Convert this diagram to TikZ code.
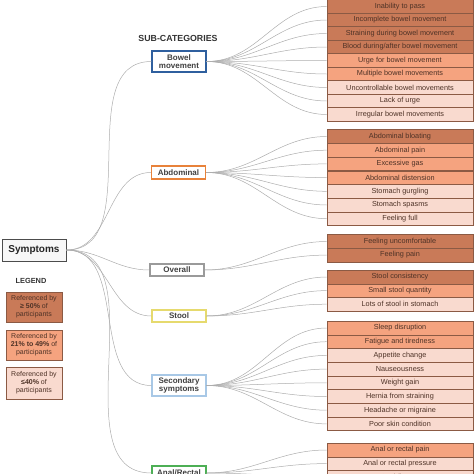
\documentclass[tikz,border=0pt]{standalone}
\usepackage{fontspec}
\setmainfont{Liberation Sans}
\usepackage{xcolor}
\usepackage{tikz}
\usetikzlibrary{shapes,arrows.meta,positioning,fit,calc}
\definecolor{hi}{HTML}{C97A58}
\definecolor{mid}{HTML}{F5A37F}
\definecolor{lo}{HTML}{F9DACF}
\definecolor{rowline}{HTML}{8B5A44}
\definecolor{rowtext}{HTML}{4E3226}
\definecolor{catblue}{HTML}{2F5F9E}
\definecolor{catorange}{HTML}{E8823A}
\definecolor{catgray}{HTML}{9A9A9A}
\definecolor{catyellow}{HTML}{E6DA6E}
\definecolor{catsky}{HTML}{A8C8E6}
\definecolor{catgreen}{HTML}{4DAF55}

\begin{document}
\begin{tikzpicture}[x=1pt, y=-1pt,
  root/.style={rectangle, draw=black!70, fill=black!3, line width=0.9pt, minimum width=64pt, minimum height=22pt, font=\fontsize{10}{11}\selectfont\bfseries, text=black!85},
  cat/.style={rectangle, fill=white, line width=1.4pt, minimum width=54pt, inner sep=1pt, font=\fontsize{8}{8.6}\selectfont\bfseries, text=black!75, align=center},
  row/.style={rectangle, draw=rowline, line width=0.6pt, minimum width=146pt, minimum height=13.6pt, inner sep=0pt, font=\fontsize{7.3}{8}\selectfont, text=rowtext},
  key/.style={rectangle, draw=rowline, line width=0.6pt, minimum width=56pt, minimum height=30pt, inner sep=1pt, font=\fontsize{7}{8}\selectfont, text=rowtext, align=center},
  head/.style={font=\fontsize{8.8}{9}\selectfont\bfseries, text=black!80},
  link/.style={black!32, line width=0.5pt}
]
\clip (0,0) rectangle (474,474);

% main node and sub-categories
\node[root] (symptoms) at (34,250) {Symptoms};
\node[head] (subhead) at (178,38.5) {SUB-CATEGORIES};
\node[cat, draw=catblue, minimum height=21pt] (bowel) at (179,61.5) {Bowel\\movement};
\node[cat, draw=catorange, minimum height=13pt] (abdominal) at (178.5,172.5) {Abdominal};
\node[cat, draw=catgray, minimum height=12pt] (overall) at (177,270) {Overall};
\node[cat, draw=catyellow, minimum height=12pt] (stool) at (179,316) {Stool};
\node[cat, draw=catsky, minimum height=21pt] (secondary) at (179,385.5) {Secondary\\symptoms};
\node[cat, draw=catgreen, minimum height=14pt] (anal) at (179,473) {Anal/Rectal};

% legend
\node[head, font=\fontsize{7.4}{8}\selectfont\bfseries] (legend) at (31,281) {LEGEND};
\node[key, fill=hi] (keyhi) at (34,307) {Referenced by\\\textbf{≥ 50\%} of\\participants};
\node[key, fill=mid] (keymid) at (34,345) {Referenced by\\\textbf{21\% to 49\%} of\\participants};
\node[key, fill=lo, minimum height=32pt] (keylo) at (34,383) {Referenced by\\\textbf{≤40\%} of\\participants};

% bowel movement rows
\node[row, fill=hi] (b1) at (400,6.5) {Inability to pass};
\node[row, fill=hi] (b2) at (400,20) {Incomplete bowel movement};
\node[row, fill=hi] (b3) at (400,33.5) {Straining during bowel movement};
\node[row, fill=hi] (b4) at (400,47) {Blood during/after bowel movement};
\node[row, fill=mid] (b5) at (400,60.5) {Urge for bowel movement};
\node[row, fill=mid] (b6) at (400,74) {Multiple bowel movements};
\node[row, fill=lo] (b7) at (400,87.5) {Uncontrollable bowel movements};
\node[row, fill=lo] (b8) at (400,101) {Lack of urge};
\node[row, fill=lo] (b9) at (400,114.5) {Irregular bowel movements};

% abdominal rows
\node[row, fill=hi] (a1) at (400,136.5) {Abdominal bloating};
\node[row, fill=mid] (a2) at (400,150.2) {Abdominal pain};
\node[row, fill=mid] (a3) at (400,163.9) {Excessive gas};
\node[row, fill=mid] (a4) at (400,177.6) {Abdominal distension};
\node[row, fill=lo] (a5) at (400,191.3) {Stomach gurgling};
\node[row, fill=lo] (a6) at (400,205) {Stomach spasms};
\node[row, fill=lo] (a7) at (400,218.7) {Feeling full};

% overall rows
\node[row, fill=hi] (o1) at (400,241.5) {Feeling uncomfortable};
\node[row, fill=hi] (o2) at (400,255.1) {Feeling pain};

% stool rows
\node[row, fill=hi] (s1) at (400,277) {Stool consistency};
\node[row, fill=mid] (s2) at (400,290.6) {Small stool quantity};
\node[row, fill=lo] (s3) at (400,304.2) {Lots of stool in stomach};

% secondary rows
\node[row, fill=mid] (c1) at (400,328) {Sleep disruption};
\node[row, fill=mid] (c2) at (400,341.7) {Fatigue and tiredness};
\node[row, fill=lo] (c3) at (400,355.4) {Appetite change};
\node[row, fill=lo] (c4) at (400,369.1) {Nauseousness};
\node[row, fill=lo] (c5) at (400,382.8) {Weight gain};
\node[row, fill=lo] (c6) at (400,396.5) {Hernia from straining};
\node[row, fill=lo] (c7) at (400,410.2) {Headache or migraine};
\node[row, fill=lo] (c8) at (400,423.9) {Poor skin condition};

% anal/rectal rows
\node[row, fill=mid] (r1) at (400,450) {Anal or rectal pain};
\node[row, fill=lo] (r2) at (400,463.6) {Anal or rectal pressure};
\node[row, fill=lo] (r3) at (400,477.2) {Anal fissure};

% links from symptoms
\foreach \c in {bowel,abdominal,overall,stool,secondary,anal}
  \draw[link] (symptoms.east) to[out=0, in=180] (\c.west);

% links from sub-categories
\foreach \r in {b1,b2,b3,b4,b5,b6,b7,b8,b9}
  \draw[link] (bowel.east) to[out=0, in=180] (\r.west);
\foreach \r in {a1,a2,a3,a4,a5,a6,a7}
  \draw[link] (abdominal.east) to[out=0, in=180] (\r.west);
\foreach \r in {o1,o2}
  \draw[link] (overall.east) to[out=0, in=180] (\r.west);
\foreach \r in {s1,s2,s3}
  \draw[link] (stool.east) to[out=0, in=180] (\r.west);
\foreach \r in {c1,c2,c3,c4,c5,c6,c7,c8}
  \draw[link] (secondary.east) to[out=0, in=180] (\r.west);
\foreach \r in {r1,r2,r3}
  \draw[link] (anal.east) to[out=0, in=180] (\r.west);
\end{tikzpicture}
\end{document}
